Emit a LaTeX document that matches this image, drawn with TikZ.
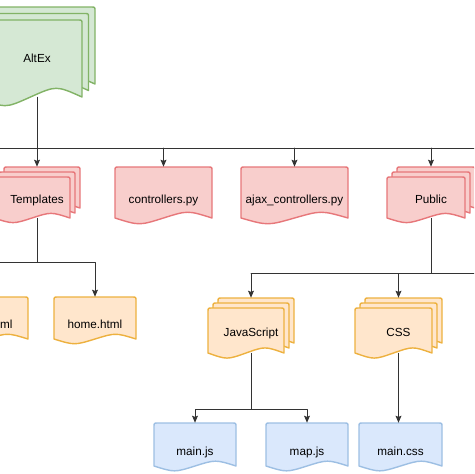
\documentclass[tikz,border=0pt]{standalone}
\usepackage{fontspec}
\setmainfont{Liberation Sans}
\usetikzlibrary{arrows.meta, calc}
\definecolor{greenfill}{HTML}{D5E8D4}
\definecolor{greenline}{HTML}{82B366}
\definecolor{redfill}{HTML}{F8CECC}
\definecolor{redline}{HTML}{E7777A}
\definecolor{orangefill}{HTML}{FFE6CC}
\definecolor{orangeline}{HTML}{EDB13F}
\definecolor{bluefill}{HTML}{DAE8FC}
\definecolor{blueline}{HTML}{9DBFE3}
\newcommand{\pxu}{0.03cm}
% one sheet: colour, left, top, right, bottom
\newcommand{\paper}[5]{%
	\path[sheet=#1] ({#2},{(#3)+4}) .. controls ({#2},{#3}) .. ({(#2)+4},{#3})
	-- ({(#4)-4},{#3}) .. controls ({#4},{#3}) .. ({#4},{(#3)+4})
	-- ({#4},{#5}) .. controls ({0.75*(#4)+0.25*(#2)},{(#5)-0.15*((#5)-(#3))}) .. ({0.5*(#2)+0.5*(#4)},{#5})
	.. controls ({0.25*(#4)+0.75*(#2)},{(#5)+0.15*((#5)-(#3))}) .. ({#2},{#5}) -- cycle;}
% file: name, colour, left, top, right, bottom, text
\newcommand{\docnode}[7]{%
	\paper{#2}{#3}{#4}{#5}{#6}
	\node[doc, minimum width={((#5)-(#3))*\pxu}, minimum height={((#6)-(#4))*\pxu}]
	(#1) at ({((#3)+(#5))/2},{((#4)+(#6))/2}) {#7};}
% folder: name, colour, offset, left, top, right, bottom (front sheet), text
\newcommand{\stacknode}[8]{%
	\paper{#2}{(#4)+2*(#3)}{(#5)-2*(#3)}{(#6)+2*(#3)}{(#7)-2*(#3)}
	\paper{#2}{(#4)+(#3)}{(#5)-(#3)}{(#6)+(#3)}{(#7)-(#3)}
	\paper{#2}{#4}{#5}{#6}{#7}
	\node[doc, minimum width={((#6)-(#4)+2*(#3))*\pxu}, minimum height={((#7)-(#5)+2*(#3))*\pxu}]
	(#1) at ({((#4)+(#6)+2*(#3))/2},{((#5)+(#7)-2*(#3))/2}) {#8};}

\begin{document}
\begin{tikzpicture}[x=\pxu, y=-\pxu, line cap=round, line join=round,
	sheet/.style={fill=#1fill, draw=#1line, line width=1.2pt},
	doc/.style={inner sep=0pt, text height=18pt, text depth=0pt, font=\fontsize{10}{12}\selectfont},
	wire/.style={draw=black!80, line width=0.8pt},
	arr/.style={wire, -{Stealth[length=6pt, width=5pt, inset=1pt]}}]
\useasboundingbox (0,0) rectangle (474,474);
\clip (0,0) rectangle (474,474);
%========================
% root
%========================
\stacknode{altex}{green}{6.5}{-21}{20}{82}{97}{AltEx}
%========================
% first level
%========================
\stacknode{tpl}{red}{5}{-6}{177}{70}{218}{Templates}
\docnode{ctrl}{red}{115}{167}{212}{218}{controllers.py}
\docnode{ajax}{red}{241}{167}{348}{218}{ajax\_controllers.py}
\stacknode{pub}{red}{5}{387}{177}{465}{218}{Public}
%========================
% second level
%========================
\docnode{base}{orange}{-54}{297}{28}{339}{base.html}
\docnode{home}{orange}{54}{297}{136}{339}{home.html}
\stacknode{js}{orange}{5}{208}{308}{284}{353}{JavaScript}
\stacknode{css}{orange}{5}{355}{308}{432}{353}{CSS}
%========================
% third level
%========================
\docnode{mainjs}{blue}{154}{423}{236}{466}{main.js}
\docnode{mapjs}{blue}{266}{423}{348}{466}{map.js}
\docnode{maincss}{blue}{359}{423}{442}{466}{main.css}
%========================
% connectors
%========================
\coordinate (rbus) at (-30,148);
\coordinate (rbusend) at (504,148);
\coordinate (tbus) at (0,262);
\coordinate (pbus) at (0,273);
\coordinate (pbusend) at (504,273);
\coordinate (jbus) at (0,409);
\draw[wire] (altex.south) -- (altex.south |- rbus);
\draw[wire] (rbus) -- (rbusend);
\foreach \n in {tpl, ctrl, ajax, pub}
	\draw[arr] (\n.north |- rbus) -- (\n.north);
% Templates
\draw[wire] (tpl.south) -- (tpl.south |- tbus);
\draw[arr] (tpl.south |- tbus) -| (base.north);
\draw[arr] (tpl.south |- tbus) -| (home.north);
% Public
\draw[wire] (pub.south) -- (pub.south |- pbus);
\draw[wire] (js.north |- pbus) -- (pbusend);
\draw[arr] (pub.south |- pbus) -| (js.north);
\draw[arr] (pub.south |- pbus) -| (css.north);
% JavaScript and CSS
\draw[wire] (js.south) -- (js.south |- jbus);
\draw[arr] (js.south |- jbus) -| (mainjs.north);
\draw[arr] (js.south |- jbus) -| (mapjs.north);
\draw[arr] (css.south) -- (css.south |- maincss.north);
\end{tikzpicture}
\end{document}
